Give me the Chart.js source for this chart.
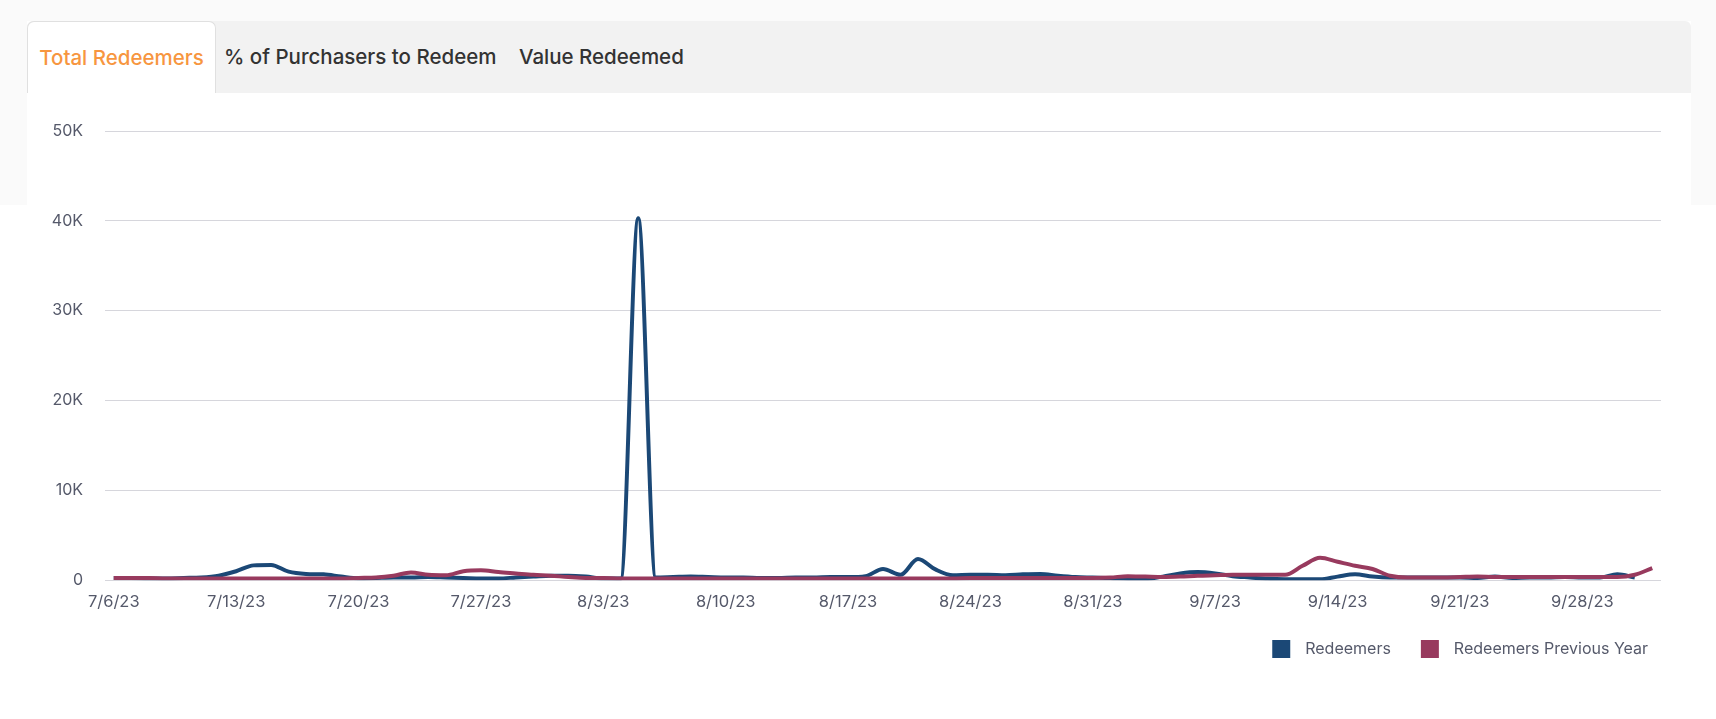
<!DOCTYPE html>
<html>
<head>
<meta charset="utf-8">
<title>Total Redeemers</title>
<script src="https://cdn.jsdelivr.net/npm/chart.js@4.4.0/dist/chart.umd.min.js"></script>
<style>
    html, body { margin: 0; padding: 0; width: 1716px; height: 719px; background: #fff; overflow: hidden; font-family: Inter, sans-serif; }
    .bg { position: absolute; background: #fafafa; }
    #card { position: absolute; left: 27px; top: 21px; width: 1664px; height: 698px; background: #fff; }
    #tabs { position: absolute; left: 0; top: 0; width: 1664px; height: 72px; background: #f2f2f2; border-radius: 6px 6px 0 0; }
    .tab { position: absolute; top: 0; height: 72px; line-height: 72px; font-size: 20.5px; font-weight: 500; color: #333; white-space: nowrap; }
    .tab.active { left: 0; width: 189px; background: #fff; color: #f7963f; border: 1px solid #e0e0e0; border-bottom: none; border-radius: 7px 7px 0 0; text-align: center; box-sizing: border-box; }
    #chartBox { position: absolute; left: 0; top: 72px; width: 1664px; height: 626px; }
</style>
</head>
<body>
<div class="bg" style="left:0;top:0;width:1716px;height:21px"></div>
<div class="bg" style="left:0;top:21px;width:27px;height:184px"></div>
<div class="bg" style="left:1691px;top:21px;width:25px;height:184px"></div>
<div id="card">
    <div id="tabs">
        <div class="tab active">Total Redeemers</div>
        <div class="tab" style="left:197px">% of Purchasers to Redeem</div>
        <div class="tab" style="left:492px">Value Redeemed</div>
    </div>
    <div id="chartBox"><canvas id="redeemChart"></canvas></div>
</div>
<script>
// Ngày (7/6/23 -> 10/2/23)
var dateLabels = [
    '7/6/23', '7/7/23', '7/8/23', '7/9/23', '7/10/23', '7/11/23', '7/12/23', '7/13/23', '7/14/23', '7/15/23',
    '7/16/23', '7/17/23', '7/18/23', '7/19/23', '7/20/23', '7/21/23', '7/22/23', '7/23/23', '7/24/23', '7/25/23',
    '7/26/23', '7/27/23', '7/28/23', '7/29/23', '7/30/23', '7/31/23', '8/1/23', '8/2/23', '8/3/23', '8/4/23',
    '8/5/23', '8/6/23', '8/7/23', '8/8/23', '8/9/23', '8/10/23', '8/11/23', '8/12/23', '8/13/23', '8/14/23',
    '8/15/23', '8/16/23', '8/17/23', '8/18/23', '8/19/23', '8/20/23', '8/21/23', '8/22/23', '8/23/23', '8/24/23',
    '8/25/23', '8/26/23', '8/27/23', '8/28/23', '8/29/23', '8/30/23', '8/31/23', '9/1/23', '9/2/23', '9/3/23',
    '9/4/23', '9/5/23', '9/6/23', '9/7/23', '9/8/23', '9/9/23', '9/10/23', '9/11/23', '9/12/23', '9/13/23',
    '9/14/23', '9/15/23', '9/16/23', '9/17/23', '9/18/23', '9/19/23', '9/20/23', '9/21/23', '9/22/23', '9/23/23',
    '9/24/23', '9/25/23', '9/26/23', '9/27/23', '9/28/23', '9/29/23', '9/30/23', '10/1/23', '10/2/23'
];

// Redeemers
var redeemers = [
    250, 250, 200, 200, 250, 300, 500, 1000, 1650, 1700,
    950, 700, 650, 400, 200, 250, 300, 300, 350, 300,
    250, 200, 200, 300, 400, 500, 500, 400, 200, 200,
    40300, 300, 350, 400, 350, 300, 300, 250, 250, 300,
    300, 350, 350, 450, 1250, 600, 2350, 1200, 550, 600,
    600, 550, 650, 700, 500, 350, 300, 250, 150, 150,
    400, 750, 900, 750, 450, 300, 150, 100, 100, 100,
    400, 650, 400, 300, 300, 300, 300, 300, 250, 400,
    250, 300, 300, 350, 300, 300, 650, 300, null
];

// Redeemers Previous Year
var redeemersPrevYear = [
    250, 250, 250, 200, 200, 200, 200, 200, 200, 200,
    200, 200, 200, 200, 250, 300, 500, 850, 600, 550,
    1000, 1100, 900, 750, 600, 500, 350, 250, 250, 200,
    200, 200, 200, 200, 200, 200, 200, 200, 200, 200,
    200, 200, 200, 200, 200, 200, 200, 200, 200, 250,
    250, 250, 250, 250, 250, 250, 250, 300, 450, 400,
    350, 400, 500, 550, 600, 600, 600, 600, 1600, 2500,
    2050, 1600, 1250, 500, 300, 300, 300, 350, 400, 350,
    350, 350, 350, 350, 350, 350, 350, 600, 1350
];

var yTicks = [0, 10000, 20000, 30000, 40000, 50000];
var seriesNames = ['Redeemers', 'Redeemers Previous Year'];
var seriesColors = ['#1b4876', '#983a5e'];

var textColor = '#55596a';

// o vuong cua chu thich (ve tren canvas rieng)
function legendBox(color) {
    var c = document.createElement('canvas');
    c.width = 42;
    c.height = 18;
    var g = c.getContext('2d');
    g.fillStyle = color;
    g.fillRect(17, 0, 18, 18);
    return c;
}

var ctx = document.getElementById('redeemChart').getContext('2d');
var chart = new Chart(ctx, {
    type: 'line',
    data: {
        labels: dateLabels,
        datasets: [
            {
                label: seriesNames[0],
                data: redeemers,
                borderColor: seriesColors[0],
                backgroundColor: seriesColors[0],
                order: 1
            },
            {
                label: seriesNames[1],
                data: redeemersPrevYear,
                borderColor: seriesColors[1],
                backgroundColor: seriesColors[1],
                order: 0
            }
        ]
    },
    options: {
        responsive: true,
        maintainAspectRatio: false,
        animation: false,
        layout: { padding: { left: 0, right: 30, top: 38, bottom: 52 } },
        elements: {
            line: { borderWidth: 4, cubicInterpolationMode: 'monotone', fill: false },
            point: { radius: 0, hoverRadius: 0 }
        },
        scales: {
            x: {
                offset: true,
                afterFit: function (scale) { scale.height += 12; },
                grid: { display: false },
                border: { display: false },
                ticks: {
                    autoSkip: false,
                    maxRotation: 0,
                    padding: 4,
                    color: textColor,
                    font: { family: 'Inter', size: 16.5 },
                    callback: function (value, index) {
                        return index % 7 === 0 ? dateLabels[index] : null;
                    }
                }
            },
            y: {
                min: yTicks[0],
                max: yTicks[yTicks.length - 1],
                afterFit: function (scale) { scale.width = 78; },
                afterBuildTicks: function (scale) {
                    scale.ticks = yTicks.map(function (v) { return { value: v }; });
                },
                grid: { color: '#d6d6dc', lineWidth: 1, drawTicks: false },
                border: { display: false },
                ticks: {
                    padding: 22,
                    color: textColor,
                    font: { family: 'Inter', size: 16 },
                    callback: function (value) {
                        return value === 0 ? '0' : (value / 1000) + 'K';
                    }
                }
            }
        },
        plugins: {
            tooltip: { enabled: false },
            legend: {
                position: 'bottom',
                align: 'end',
                labels: {
                    usePointStyle: true,
                    pointStyleWidth: 42,
                    boxHeight: 18,
                    padding: 13,
                    color: textColor,
                    font: { family: 'Inter', size: 16 },
                    sort: function (a, b) { return a.datasetIndex - b.datasetIndex; },
                    generateLabels: function (chart) {
                        var items = Chart.defaults.plugins.legend.labels.generateLabels(chart);
                        items.forEach(function (it) {
                            it.pointStyle = legendBox(seriesColors[it.datasetIndex]);
                        });
                        return items;
                    }
                }
            }
        }
    }
});
</script>
</body>
</html>
